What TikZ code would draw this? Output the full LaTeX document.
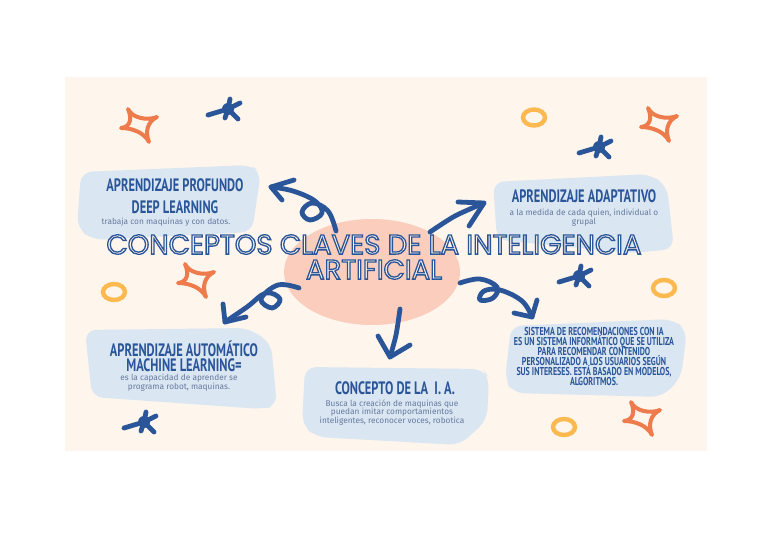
\documentclass[tikz,border=0pt]{standalone}
\usepackage{fontspec}
\setmainfont{Fira Sans}
\newfontfamily\headfont[FakeStretch=0.69]{PT Sans}
\newfontfamily\smallheadfont[FakeStretch=0.7]{PT Sans}
\newfontfamily\titlefont{Poppins}
\newfontfamily\bodyfont{Fira Sans}
\definecolor{pagebg}{HTML}{FEF5EC}
\definecolor{boxblue}{HTML}{DAE6F2}
\definecolor{inkblue}{HTML}{2A5699}
\definecolor{greyblue}{HTML}{66799F}
\definecolor{hubpink}{HTML}{FBCDBD}
\definecolor{starorange}{HTML}{EE7B4C}
\definecolor{ringgold}{HTML}{FBB950}
\newcommand{\outlined}[1]{\special{pdf:code q 2 Tr 1.3 w 0.165 0.337 0.6 RG 0.996 0.961 0.925 rg}#1\special{pdf:code Q}}
\tikzset{
  x=1pt,y=-1pt,
  card/.style={fill=boxblue,draw=none,rounded corners=11pt},
  heading/.style={font=\headfont\bfseries\fontsize{18}{15}\selectfont,text=inkblue,align=center,inner sep=0pt},
  smallhead/.style={font=\smallheadfont\bfseries\fontsize{11.4}{9.9}\selectfont,text=inkblue,align=center,inner sep=0pt},
  bodytext/.style={font=\bodyfont\fontsize{8.3}{8.7}\selectfont,text=greyblue,align=center,inner sep=0pt},
  curve/.style={draw=inkblue,line width=4.8pt,line cap=round,line join=round},
  sparkle/.pic={\draw[draw=starorange,line width=4pt,line cap=round,line join=round]
     (-11,-16) .. controls (-7,-7) and (8,-4) .. (18,-8) .. controls (8,-3) and (6,7) .. (10,17)
     .. controls (5,7) and (-8,3) .. (-18,3) .. controls (-8,2) and (-7,-7) .. cycle;},
  splat/.pic={\fill[inkblue] (2,-1) circle [radius=6];
     \draw[draw=inkblue,line width=4.8pt,line cap=round]
     (2,-1)--(4,-11) (2,-1)--(14,-7) (2,-1)--(12,9) (2,-1)--(-1,8) (2,-1)--(-18,5);},
  ring/.style={draw=ringgold,line width=4.4pt,fill=none}
}
\begin{document}
\lineskiplimit=-20pt\relax
\begin{tikzpicture}
\useasboundingbox (0,0) rectangle (768,543);
\fill[pagebg] (65,77) rectangle (707,451);
% cards
\path[card] (81,172) -- (250,165) -- (261,172) -- (252,232) -- (93,240) -- (77,228) -- cycle;
\path[card] (493,182) -- (650,174) -- (667,186) -- (674,249) -- (632,253) -- (497,240) -- cycle;
\path[card] (85,330) -- (248,328) -- (271,343) -- (277,406) -- (262,409) -- (92,397) -- cycle;
\path[card] (305,367) -- (483,369) -- (489,378) -- (487,420) -- (460,445) -- (316,437) -- (302,425) -- cycle;
\path[card] (511,326) -- (672,319) -- (687,330) -- (681,378) -- (662,397) -- (513,393) -- (505,380) -- cycle;
% hub
\fill[hubpink] (372,272) ellipse [x radius=88,y radius=53];
% decorations
\pic at (139,125) {sparkle};
\pic at (659,124) {sparkle};
\pic at (196,280) {sparkle};
\pic at (642,418) {sparkle};
\pic at (226,110) {splat};
\pic at (597,148) {splat};
\pic at (577,277) {splat};
\pic at (142,423) {splat};
\draw[ring] (534,117.5) ellipse [x radius=11,y radius=8];
\draw[ring] (114,292) ellipse [x radius=11,y radius=8];
\draw[ring] (664,288) ellipse [x radius=11,y radius=8];
\draw[ring] (564,427) ellipse [x radius=11,y radius=8];
% connectors
\coordinate (tipa) at (271,187);
\coordinate (tipb) at (484,203);
\coordinate (tipc) at (225,322);
\coordinate (tipd) at (390,357);
\coordinate (tipe) at (532,317);
\draw[curve] plot[smooth,tension=.65] coordinates {(336,231) (328,211) (312,203) (302,212) (310,220) (322,213) (315,201) (293,191) (tipa)};
\draw[curve] (294,180) -- (tipa) -- (282,200);
\draw[curve] plot[smooth,tension=.5] coordinates {(430,232) (455,216) (tipb)};
\draw[curve] (458,202) -- (tipb) -- (469,226);
\draw[curve] plot[smooth,tension=.65] coordinates {(299,288) (278,285) (261,299) (272,308) (280,299) (266,293) (247,307) (tipc)};
\draw[curve] (223,304) -- (tipc) -- (246,317);
\draw[curve] plot[smooth,tension=.5] coordinates {(400,309) (396,335) (tipd)};
\draw[curve] (378,336) -- (tipd) -- (410,345);
\draw[curve] plot[smooth,tension=.65] coordinates {(460,283) (480,279) (497,287) (493,298) (480,300) (484,291) (500,290) (522,301) (tipe)};
\draw[curve] (537,300) -- (tipe) -- (514,313);
% texts
\node[heading] (ha) at (175,185) {APRENDIZAJE PROFUNDO};
\node[heading] (hb) at (175,207) {DEEP LEARNING};
\node[bodytext] (ta) at (166,222) {trabaja con maquinas y con datos.};
\node[heading] (hc) at (584,196) {APRENDIZAJE ADAPTATIVO};
\node[bodytext] (tb) at (584,217.5) {a la medida de cada quien, individual o\\grupal};
\node[heading] (hd) at (184,356) {APRENDIZAJE AUTOMÁTICO\\MACHINE LEARNING=};
\node[bodytext] (tc) at (179,382.5) {es la capacidad de aprender se\\programa robot, maquinas.};
\node[heading] (hf) at (395,388) {CONCEPTO DE LA \ I. A.};
\node[bodytext] (td) at (392,412.5) {Busca la creación de maquinas que\\puedan imitar comportamientos\\inteligentes, reconocer voces, robotica};
\node[smallhead] (te) at (594,356.5) {SISTEMA DE RECOMENDACIONES CON IA\\ES UN SISTEMA INFORMÁTICO QUE SE UTILIZA\\PARA RECOMENDAR CONTENIDO\\PERSONALIZADO A LOS USUARIOS SEGÚN\\SUS INTERESES. ESTÁ BASADO EN MODELOS,\\ALGORITMOS.};
\node[font=\titlefont\fontsize{27.5}{25}\selectfont,text=inkblue,align=center,inner sep=0pt] (title) at (374,257)
  {\outlined{CONCEPTOS CLAVES DE LA INTELIGENCIA}\\\outlined{ARTIFICIAL}};
\end{tikzpicture}
\end{document}
